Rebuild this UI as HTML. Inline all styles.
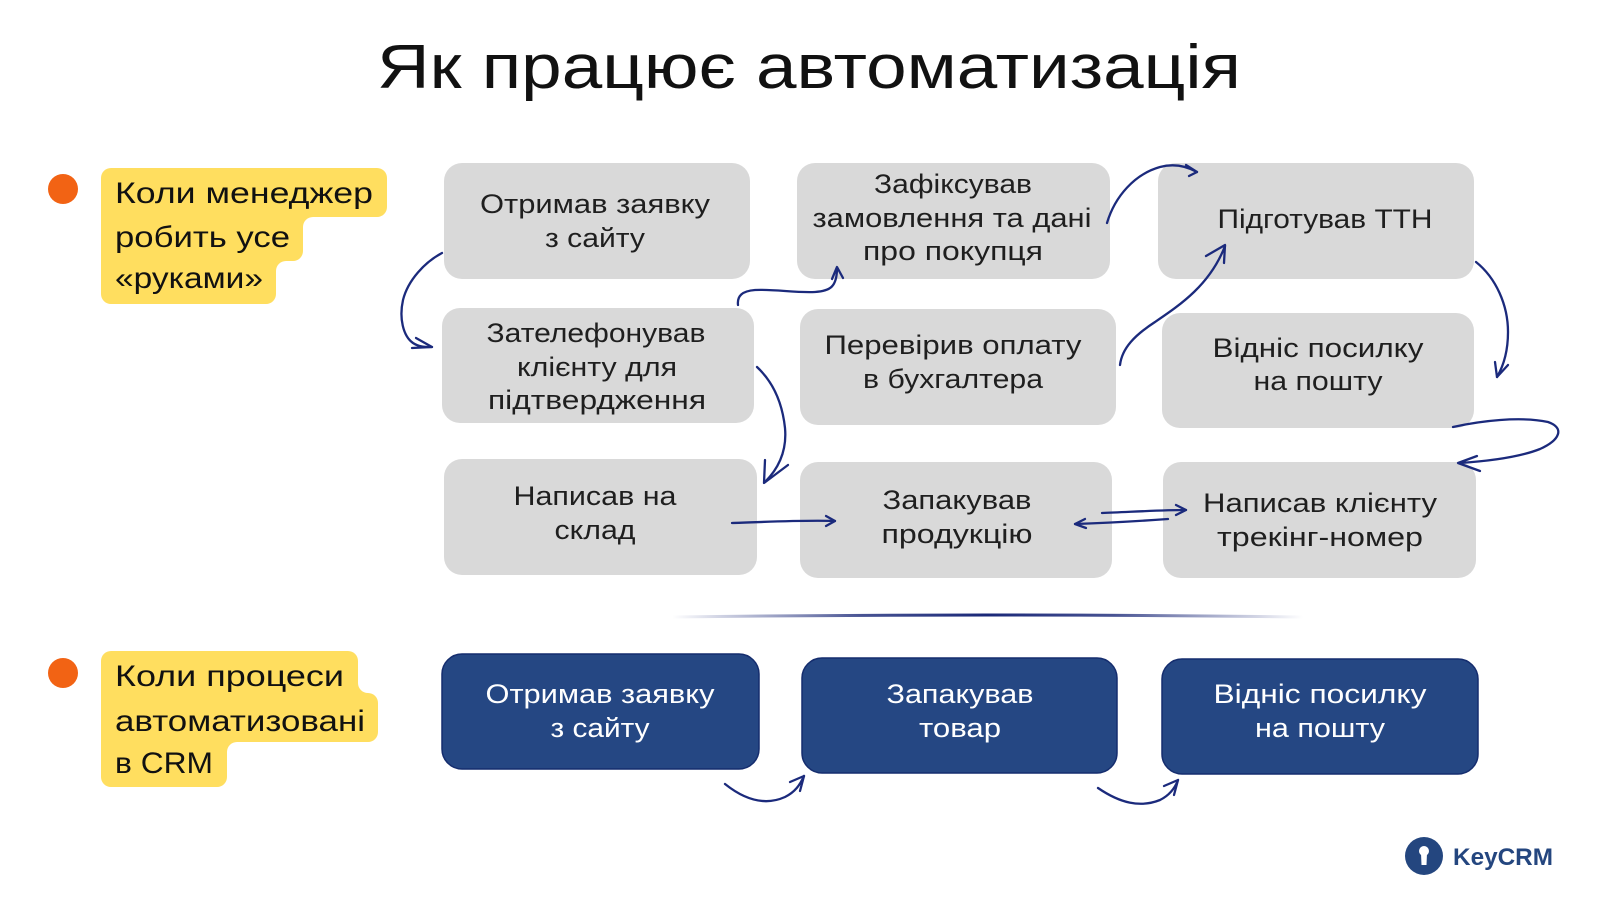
<!DOCTYPE html>
<html>
<head>
<meta charset="utf-8">
<style>
  html,body{margin:0;padding:0;background:#fff;}
  svg{display:block;}
  text{font-family:"Liberation Sans","DejaVu Sans",sans-serif;}
</style>
</head>
<body>
<svg width="1600" height="900" viewBox="0 0 1600 900" xmlns="http://www.w3.org/2000/svg">
  <defs>
    <linearGradient id="div" x1="672" y1="0" x2="1303" y2="0" gradientUnits="userSpaceOnUse">
      <stop offset="0" stop-color="#1a2878" stop-opacity="0"/>
      <stop offset="0.3" stop-color="#1a2878" stop-opacity="0.8"/>
      <stop offset="0.5" stop-color="#1a2878" stop-opacity="1"/>
      <stop offset="0.7" stop-color="#1a2878" stop-opacity="0.8"/>
      <stop offset="1" stop-color="#1a2878" stop-opacity="0"/>
    </linearGradient>
  </defs>
  <rect width="1600" height="900" fill="#ffffff"/>

  <!-- Title -->
  <text x="809" y="88" font-size="62" fill="#111" text-anchor="middle" textLength="864" lengthAdjust="spacingAndGlyphs">Як працює автоматизація</text>

  <!-- Bullets -->
  <circle cx="63" cy="189" r="15" fill="#f26314"/>
  <circle cx="63" cy="673" r="15" fill="#f26314"/>

  <!-- Yellow highlight 1 -->
  <path d="M111,168 H377 A10,10 0 0 1 387,178 V207 A10,10 0 0 1 377,217 H313 A10,10 0 0 0 303,227 V251 A10,10 0 0 1 293,261 H286 A10,10 0 0 0 276,271 V294 A10,10 0 0 1 266,304 H111 A10,10 0 0 1 101,294 V178 A10,10 0 0 1 111,168 Z" fill="#ffde5f"/>
  <g font-size="30" fill="#111">
    <text x="115" y="203" textLength="258" lengthAdjust="spacingAndGlyphs">Коли менеджер</text>
    <text x="115" y="247" textLength="175" lengthAdjust="spacingAndGlyphs">робить усе</text>
    <text x="115" y="288" textLength="148" lengthAdjust="spacingAndGlyphs">«руками»</text>
  </g>

  <!-- Yellow highlight 2 -->
  <path d="M111,651 H348 A10,10 0 0 1 358,661 V683 A10,10 0 0 0 368,693 A10,10 0 0 1 378,703 V732 A10,10 0 0 1 368,742 H237 A10,10 0 0 0 227,752 V777 A10,10 0 0 1 217,787 H111 A10,10 0 0 1 101,777 V661 A10,10 0 0 1 111,651 Z" fill="#ffde5f"/>
  <g font-size="30" fill="#111">
    <text x="115" y="686" textLength="229" lengthAdjust="spacingAndGlyphs">Коли процеси</text>
    <text x="115" y="731" textLength="250" lengthAdjust="spacingAndGlyphs">автоматизовані</text>
    <text x="115" y="773" textLength="98" lengthAdjust="spacingAndGlyphs">в CRM</text>
  </g>

  <!-- Gray boxes -->
  <g fill="#d9d9d9">
    <rect x="444" y="163" width="306" height="116" rx="18"/>
    <rect x="797" y="163" width="313" height="116" rx="18"/>
    <rect x="1158" y="163" width="316" height="116" rx="18"/>
    <rect x="442" y="308" width="312" height="115" rx="18"/>
    <rect x="800" y="309" width="316" height="116" rx="18"/>
    <rect x="1162" y="313" width="312" height="115" rx="18"/>
    <rect x="444" y="459" width="313" height="116" rx="18"/>
    <rect x="800" y="462" width="312" height="116" rx="18"/>
    <rect x="1163" y="462" width="313" height="116" rx="18"/>
  </g>

  <g font-size="27" fill="#1f1f1f" text-anchor="middle">
    <text x="595" y="213" textLength="230" lengthAdjust="spacingAndGlyphs">Отримав заявку</text>
    <text x="595" y="247" textLength="100" lengthAdjust="spacingAndGlyphs">з сайту</text>

    <text x="953" y="193" textLength="158" lengthAdjust="spacingAndGlyphs">Зафіксував</text>
    <text x="952" y="227" textLength="279" lengthAdjust="spacingAndGlyphs">замовлення та дані</text>
    <text x="953" y="260" textLength="180" lengthAdjust="spacingAndGlyphs">про покупця</text>

    <text x="1325" y="228" textLength="215" lengthAdjust="spacingAndGlyphs">Підготував ТТН</text>

    <text x="596" y="342" textLength="219" lengthAdjust="spacingAndGlyphs">Зателефонував</text>
    <text x="597" y="376" textLength="160" lengthAdjust="spacingAndGlyphs">клієнту для</text>
    <text x="597" y="409" textLength="218" lengthAdjust="spacingAndGlyphs">підтвердження</text>

    <text x="953" y="354" textLength="257" lengthAdjust="spacingAndGlyphs">Перевірив оплату</text>
    <text x="953" y="388" textLength="180" lengthAdjust="spacingAndGlyphs">в бухгалтера</text>

    <text x="1318" y="357" textLength="211" lengthAdjust="spacingAndGlyphs">Відніс посилку</text>
    <text x="1318" y="390" textLength="129" lengthAdjust="spacingAndGlyphs">на пошту</text>

    <text x="595" y="505" textLength="163" lengthAdjust="spacingAndGlyphs">Написав на</text>
    <text x="595" y="539" textLength="81" lengthAdjust="spacingAndGlyphs">склад</text>

    <text x="957" y="509" textLength="149" lengthAdjust="spacingAndGlyphs">Запакував</text>
    <text x="957" y="543" textLength="151" lengthAdjust="spacingAndGlyphs">продукцію</text>

    <text x="1320" y="512" textLength="234" lengthAdjust="spacingAndGlyphs">Написав клієнту</text>
    <text x="1320" y="546" textLength="206" lengthAdjust="spacingAndGlyphs">трекінг-номер</text>
  </g>

  <!-- Divider -->
  <path d="M672,617 Q990,613 1303,617" stroke="url(#div)" stroke-width="3" fill="none"/>

  <!-- Blue boxes -->
  <g fill="#254783" stroke="#152d6e" stroke-width="1.5">
    <rect x="442" y="654" width="317" height="115" rx="20"/>
    <rect x="802" y="658" width="315" height="115" rx="20"/>
    <rect x="1162" y="659" width="316" height="115" rx="20"/>
  </g>
  <g font-size="27" fill="#ffffff" text-anchor="middle">
    <text x="600" y="703" textLength="229" lengthAdjust="spacingAndGlyphs">Отримав заявку</text>
    <text x="600" y="737" textLength="99" lengthAdjust="spacingAndGlyphs">з сайту</text>
    <text x="960" y="703" textLength="147" lengthAdjust="spacingAndGlyphs">Запакував</text>
    <text x="960" y="737" textLength="82" lengthAdjust="spacingAndGlyphs">товар</text>
    <text x="1320" y="703" textLength="213" lengthAdjust="spacingAndGlyphs">Відніс посилку</text>
    <text x="1320" y="737" textLength="130" lengthAdjust="spacingAndGlyphs">на пошту</text>
  </g>

  <!-- Hand-drawn arrows -->
  <g stroke="#1b2a7c" stroke-width="2.3" fill="none" stroke-linecap="round" stroke-linejoin="round">
    <!-- box1 -> box4 -->
    <path d="M442,253 C425,262 408,280 403,300 C399,318 403,336 413,343 C419,347 425,347 432,347"/>
    <path d="M416,338 L432,347 L412,348"/>
    <!-- box4 -> box2 -->
    <path d="M738,305 C737,296 742,291 755,290 C775,289 795,293 815,292 C830,291 837,287 837,268"/>
    <path d="M832,279 L837,267 L843,278"/>
    <!-- box4 -> box7 -->
    <path d="M757,367 C772,381 782,400 785,428 C787,450 779,468 765,482"/>
    <path d="M765,460 L764,483 L788,465"/>
    <!-- box7 -> box8 -->
    <path d="M732,523 C765,522 800,520 835,521"/>
    <path d="M826,516 L835,521 L826,526"/>
    <!-- box2 -> box3 -->
    <path d="M1107,223 C1115,196 1135,174 1160,167 C1175,163 1188,167 1197,172"/>
    <path d="M1186,165 L1197,172 L1189,176"/>
    <!-- box5 -> box3 -->
    <path d="M1120,365 C1122,348 1135,335 1155,322 C1180,305 1210,285 1225,246"/>
    <path d="M1206,256 L1225,245 L1224,263"/>
    <!-- box3 -> box6 -->
    <path d="M1476,262 C1496,278 1508,305 1508,332 C1508,350 1504,365 1497,377"/>
    <path d="M1495,362 L1497,377 L1508,365"/>
    <!-- box6 -> box9 loop -->
    <path d="M1453,427 C1480,421 1520,416 1548,422 C1565,428 1560,440 1540,449 C1520,457 1490,461 1460,463"/>
    <path d="M1477,456 L1458,463 L1480,471"/>
    <!-- box8 <-> box9 -->
    <path d="M1102,513 C1130,512 1160,510 1186,510"/>
    <path d="M1176,505 L1186,510 L1176,515"/>
    <path d="M1168,519 C1140,521 1105,523 1075,524"/>
    <path d="M1085,519 L1075,524 L1086,528"/>
    <!-- bottom arrows -->
    <path d="M725,784 C745,800 765,806 785,797 C795,792 800,785 804,776"/>
    <path d="M790,782 L804,776 L800,791"/>
    <path d="M1098,788 C1120,803 1140,808 1160,800 C1170,795 1175,788 1178,780"/>
    <path d="M1164,786 L1178,780 L1174,795"/>
  </g>

  <!-- Logo -->
  <circle cx="1424" cy="856" r="19" fill="#24467f"/>
  <circle cx="1424" cy="851" r="5" fill="#ffffff"/>
  <path d="M1421,853 L1427,853 L1426.5,865 L1421.5,865 Z" fill="#ffffff"/>
  <text x="1453" y="865" font-size="24" font-weight="bold" fill="#24467f" textLength="100" lengthAdjust="spacingAndGlyphs">KeyCRM</text>
</svg>
</body>
</html>
